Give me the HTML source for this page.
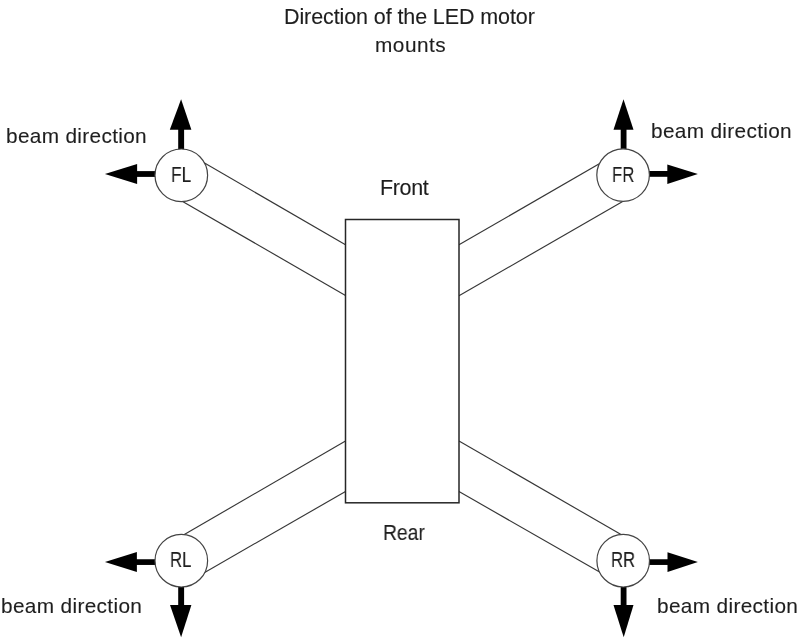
<!DOCTYPE html>
<html>
<head>
<meta charset="utf-8">
<style>
html,body{margin:0;padding:0;background:#fff;}
body{width:800px;height:638px;position:relative;overflow:hidden;font-family:"Liberation Sans", sans-serif;color:#1e1e1e;}
svg{position:absolute;left:0;top:0;}
.t{will-change:transform;-webkit-text-stroke:0.12px #1e1e1e;position:absolute;white-space:nowrap;font-size:21.5px;line-height:1;transform-origin:0 0;}
</style>
</head>
<body>
<svg width="800" height="638" viewBox="0 0 800 638">
  <g stroke="#363636" stroke-width="1.15" fill="none">
    <!-- arms -->
    <line x1="181.3" y1="149.6" x2="345.5" y2="244.8"/>
    <line x1="181.3" y1="200.7" x2="345.5" y2="295.4"/>
    <line x1="623.1" y1="150.05" x2="459" y2="244.75"/>
    <line x1="623.1" y1="201.15" x2="459" y2="295.85"/>
    <line x1="181.3" y1="536.3" x2="345.5" y2="440.9"/>
    <line x1="181.3" y1="585.9" x2="345.5" y2="491.5"/>
    <line x1="623.2" y1="535.8" x2="459" y2="440.9"/>
    <line x1="623.2" y1="585.6" x2="459" y2="491.5"/>
  </g>
  <rect x="345.5" y="219.5" width="113.5" height="283.3" fill="#fff" stroke="#262626" stroke-width="1.5"/>
  <!-- arrows -->
  <g fill="#000">
    <!-- FL up -->
    <rect x="178.2" y="128" width="5.9" height="22"/>
    <polygon points="181.1,99.3 169.8,129.7 191.4,129.7"/>
    <!-- FL left -->
    <rect x="135.5" y="171.1" width="22" height="5.8"/>
    <polygon points="104.9,174.05 137.1,164.1 137.1,184"/>
    <!-- FR up -->
    <rect x="620.7" y="128" width="5.8" height="22"/>
    <polygon points="623.5,99.3 613.5,129.7 633.5,129.7"/>
    <!-- FR right -->
    <rect x="647" y="171" width="22" height="5.8"/>
    <polygon points="697.9,174.1 667.3,164.5 667.3,184.05"/>
    <!-- RL left -->
    <rect x="135.5" y="559.25" width="22" height="5.7"/>
    <polygon points="104.9,562.1 136.9,552.1 136.9,572"/>
    <!-- RL down -->
    <rect x="178.2" y="586" width="5.9" height="21"/>
    <polygon points="181.1,637.3 170,605 191.4,605"/>
    <!-- RR right -->
    <rect x="647" y="559.25" width="22" height="5.7"/>
    <polygon points="697.9,562.1 667.5,552.35 667.5,572"/>
    <!-- RR down -->
    <rect x="620.7" y="586" width="5.8" height="21"/>
    <polygon points="623.7,637.3 613.5,605 633.5,605"/>
  </g>
  <g fill="#fff" stroke="#444" stroke-width="1.2">
    <circle cx="181.3" cy="175.3" r="26.3"/>
    <circle cx="623.1" cy="175.1" r="26.3"/>
    <circle cx="181.3" cy="560.7" r="26.3"/>
    <circle cx="623.2" cy="560.7" r="26.3"/>
  </g>
</svg>
<div class="t" style="left:283.9px;top:7.0px;letter-spacing:-0.1px;">Direction of the LED motor</div>
<div class="t" style="left:375.0px;top:34.5px;font-size:20.8px;letter-spacing:0.5px;">mounts</div>
<div class="t" style="left:6.25px;top:125.9px;font-size:20.8px;letter-spacing:0.327px;">beam direction</div>
<div class="t" style="left:651.1px;top:120.5px;font-size:20.8px;letter-spacing:0.327px;">beam direction</div>
<div class="t" style="left:0.9px;top:595.9px;font-size:20.8px;letter-spacing:0.346px;">beam direction</div>
<div class="t" style="left:656.5px;top:595.9px;font-size:20.8px;letter-spacing:0.346px;">beam direction</div>
<div class="t" style="left:379.6px;top:178.25px;letter-spacing:-0.375px;">Front</div>
<div class="t" style="left:382.85px;top:522.5px;transform:scaleX(0.8971);">Rear</div>
<div class="t" style="left:171.05px;top:164.9px;transform:scaleX(0.8032);">FL</div>
<div class="t" style="left:611.8px;top:164.9px;transform:scaleX(0.7789);">FR</div>
<div class="t" style="left:170.35px;top:550.1px;transform:scaleX(0.7795);">RL</div>
<div class="t" style="left:610.6px;top:550.1px;transform:scaleX(0.7765);">RR</div>
</body>
</html>
